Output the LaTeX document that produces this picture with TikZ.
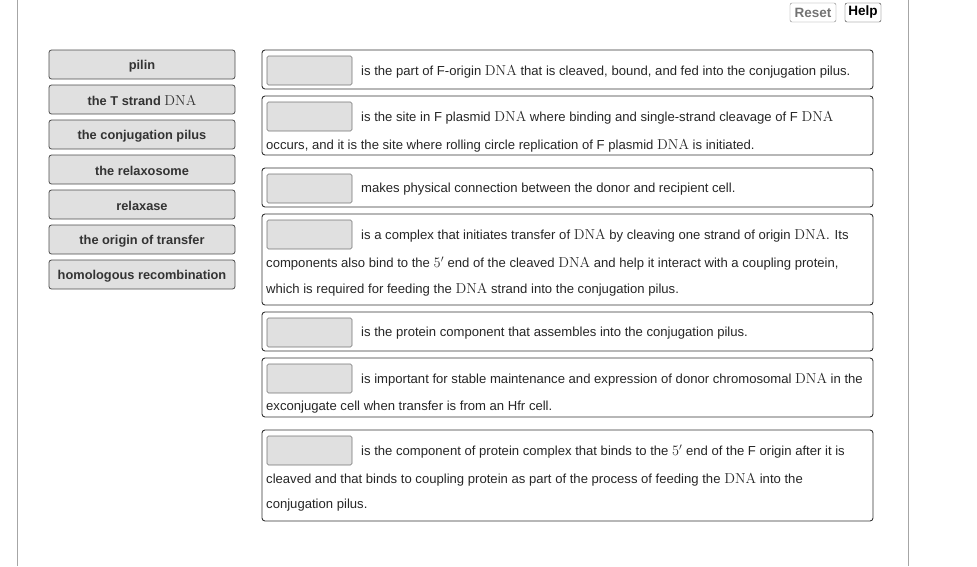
\documentclass[tikz,border=0pt]{standalone}
\usepackage[no-math]{fontspec}
\setmainfont{Liberation Sans}
\newcommand{\dnaword}{{\fontsize{14.5}{15}\selectfont$\mathrm{DNA}$}}
\newcommand{\fiveprime}{{\fontsize{14.5}{15}\selectfont$5'$}}
\begin{document}
\begin{tikzpicture}[x=1pt,y=-1pt,
  lbox/.style={draw=black!70,fill=black!12,rounded corners=2.5pt,line width=0.8pt,minimum width=186pt,minimum height=29pt,inner sep=0pt,font=\fontsize{12.8}{15}\selectfont\bfseries,text=black!80},
  rbox/.style={draw=black!80,rounded corners=3pt,line width=0.9pt},
  slot/.style={draw=black!55,fill=black!12,rounded corners=1.5pt,line width=0.6pt},
  txt/.style={anchor=west,inner sep=0pt,font=\fontsize{13.1}{15}\selectfont,text=black!85},
  btn/.style={draw=black!50,rounded corners=2pt,inner sep=0pt,minimum height=19pt,font=\fontsize{13.5}{15}\selectfont\bfseries}]
\useasboundingbox (0,0) rectangle (977,566);
\draw[black!35,line width=0.8pt] (17.5,0) -- (17.5,566) (908.5,0) -- (908.5,566);
\node[btn,text=black!55,minimum width=46pt] (reset) at (813,12.5) {Reset};
\node[btn,draw=black!80,minimum width=36pt] (help) at (863,12.5) {Help};
\foreach \n/\t [count=\i from 0] in {a/pilin,b/the T strand \dnaword,c/the conjugation pilus,d/the relaxosome,e/relaxase,f/the origin of transfer,g/homologous recombination}{
  \draw[lbox] (49,50+35*\i) rectangle (235,79+35*\i);
  \node[inner sep=0pt,font=\fontsize{12.8}{15}\selectfont\bfseries,text=black!80] (\n) at (142,66+35*\i) {\t};
}
\foreach \nm/\top/\bot in {r1/50/89,r2/96/155,r3/168/207,r4/214/305,r5/312/351,r6/358/417,r7/430/521}{
  \draw[rbox] (262,\top) rectangle (873,\bot);
  \draw[slot] (267,\top+6) rectangle (352,\top+35);
}
\node[txt] (t1) at (361,71.5) {is the part of F-origin \dnaword{} that is cleaved, bound, and fed into the conjugation pilus.};
\node[txt] (t2) at (361,117.5) {is the site in F plasmid \dnaword{} where binding and single-strand cleavage of F \dnaword};
\node[txt] (t2b) at (266,145.5) {occurs, and it is the site where rolling circle replication of F plasmid \dnaword{} is initiated.};
\node[txt] (t3) at (361,189.5) {makes physical connection between the donor and recipient cell.};
\node[txt] (t4) at (361,235.5) {is a complex that initiates transfer of \dnaword{} by cleaving one strand of origin \dnaword. Its};
\node[txt] (t4b) at (266,263.5) {components also bind to the \fiveprime{} end of the cleaved \dnaword{} and help it interact with a coupling protein,};
\node[txt] (t4c) at (266,289.5) {which is required for feeding the \dnaword{} strand into the conjugation pilus.};
\node[txt] (t5) at (361,333.5) {is the protein component that assembles into the conjugation pilus.};
\node[txt] (t6) at (361,379.5) {is important for stable maintenance and expression of donor chromosomal \dnaword{} in the};
\node[txt] (t6b) at (266,407.5) {exconjugate cell when transfer is from an Hfr cell.};
\node[txt] (t7) at (361,451.5) {is the component of protein complex that binds to the \fiveprime{} end of the F origin after it is};
\node[txt] (t7b) at (266,479.5) {cleaved and that binds to coupling protein as part of the process of feeding the \dnaword{} into the};
\node[txt] (t7c) at (266,505.5) {conjugation pilus.};
\end{tikzpicture}
\end{document}
